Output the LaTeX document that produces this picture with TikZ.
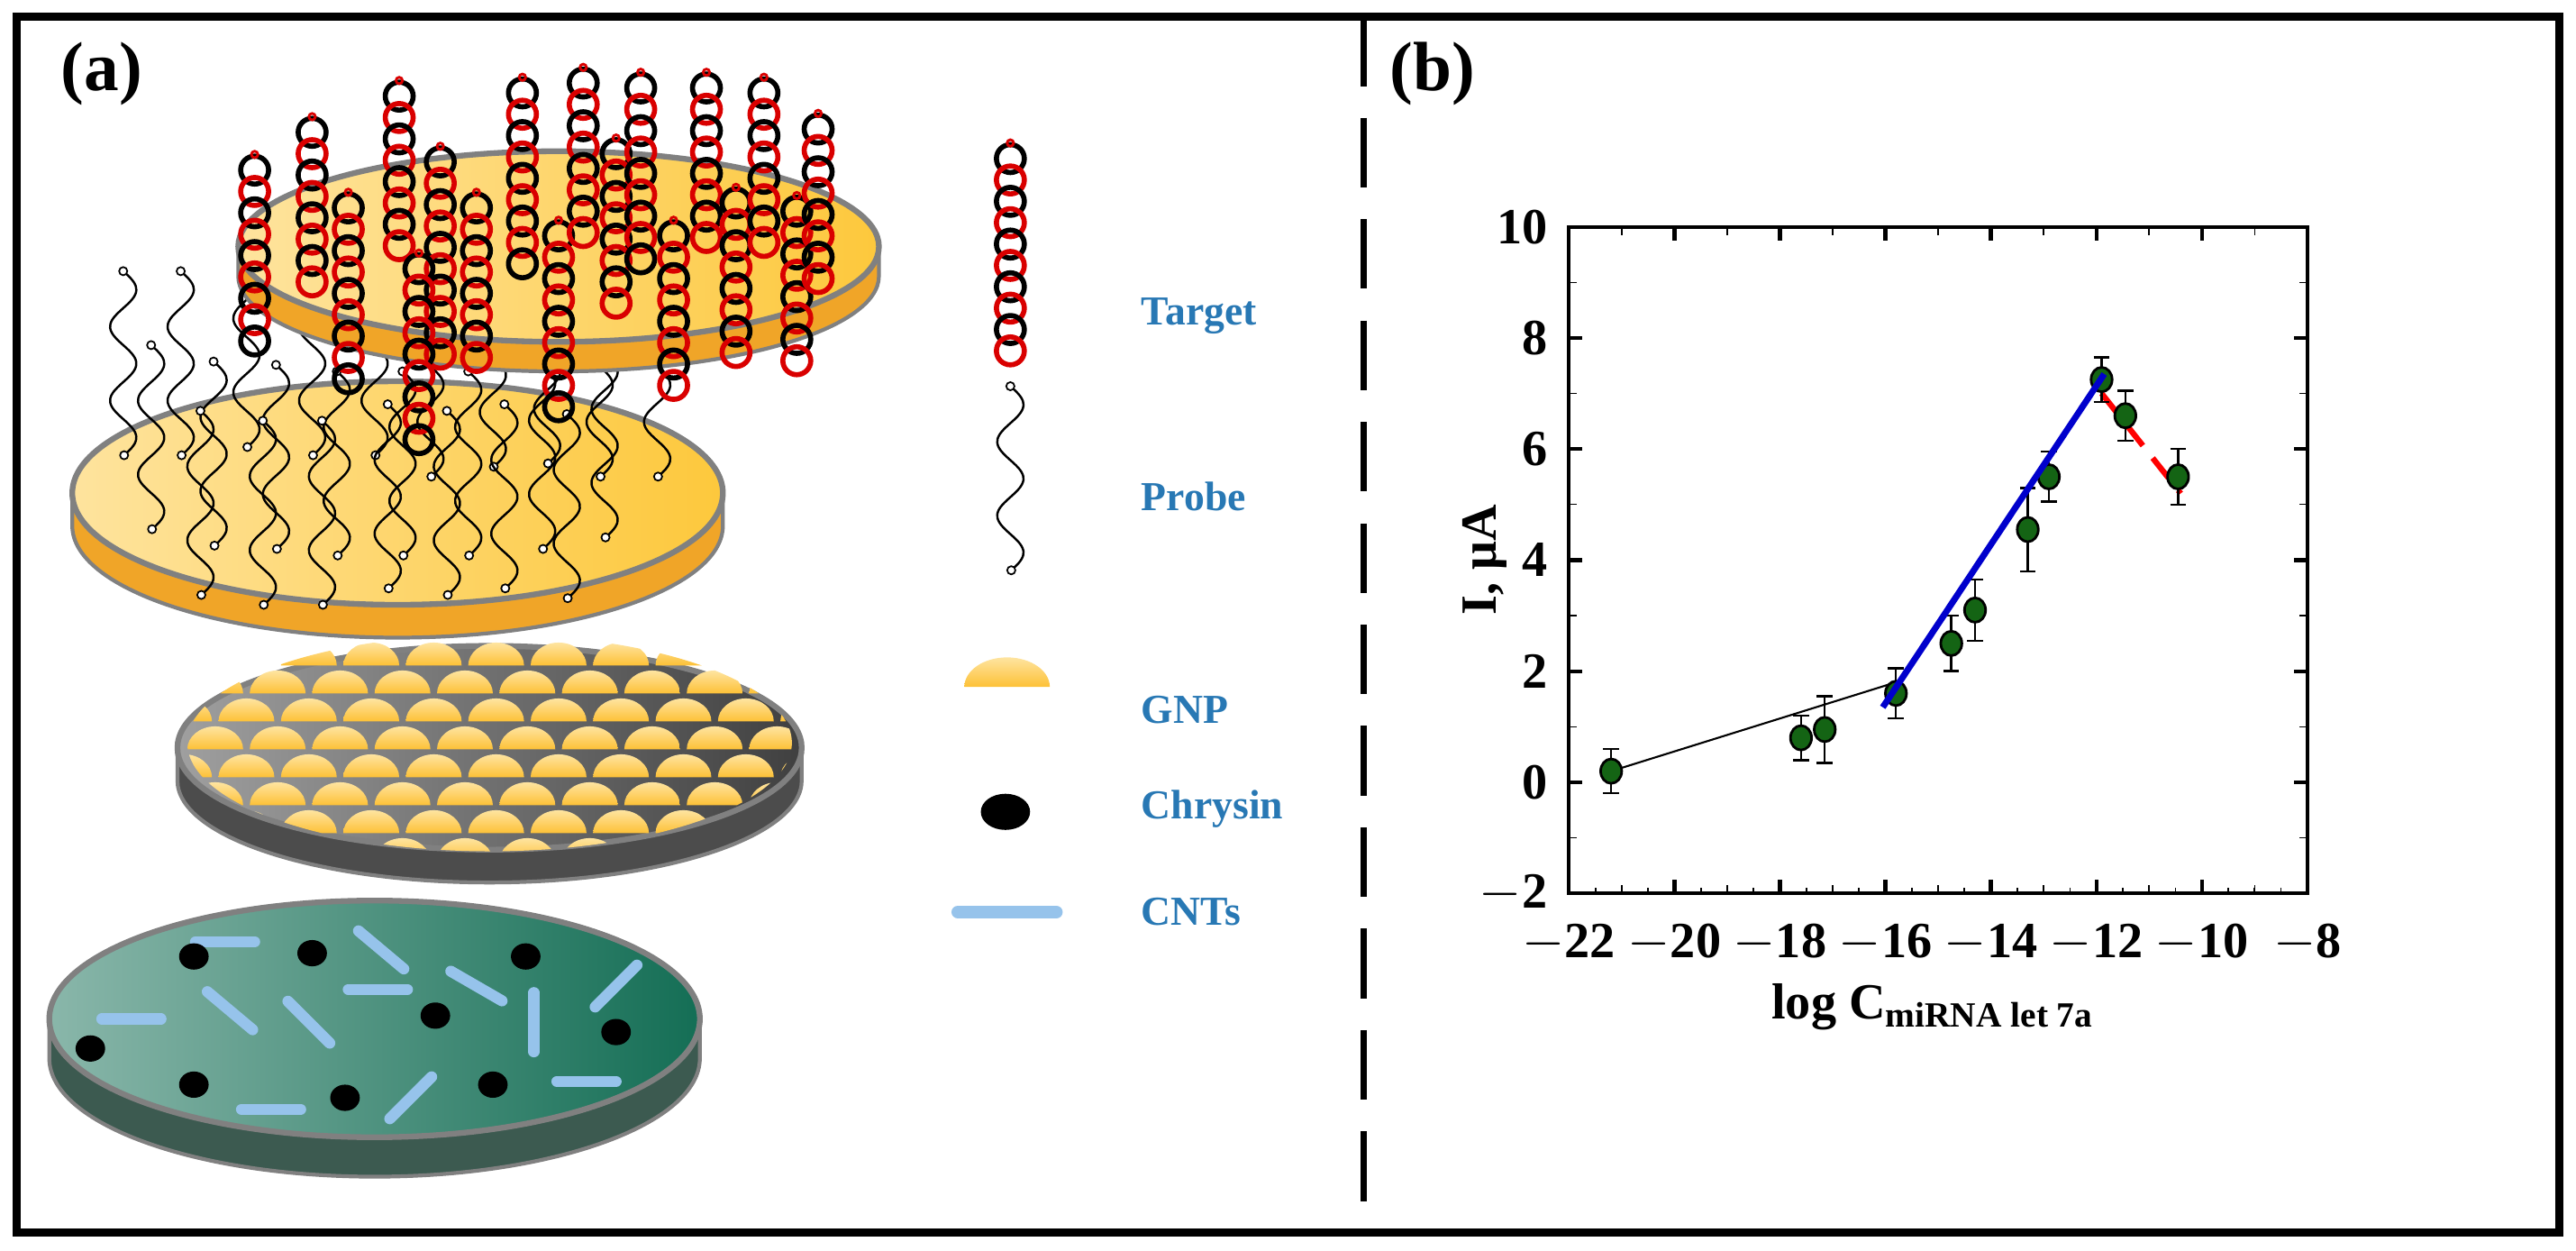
\documentclass[tikz,border=0pt]{standalone}
\usepackage{fontspec}
\setmainfont{Liberation Serif}
\usetikzlibrary{positioning}
\definecolor{gold}{RGB}{253,200,60}
\definecolor{goldlight}{RGB}{254,228,160}
\definecolor{goldside}{RGB}{240,165,40}
\definecolor{greendisc}{RGB}{20,110,85}
\definecolor{greenside}{RGB}{60,90,80}
\definecolor{legblue}{RGB}{40,120,180}
\definecolor{cntblue}{RGB}{150,195,235}
\definecolor{ptgreen}{RGB}{20,100,20}
\tikzset{
  legend/.style={font=\bfseries\fontsize{13}{15}\selectfont, text=legblue, anchor=west},
  tick/.style={font=\bfseries\fontsize{16}{18}\selectfont},
  datapt/.style={draw=black, fill=ptgreen, line width=0.8pt},
}
\newcommand{\disc}[7]{%
  \fill[#7] (#1-#3,#2) -- ++(0,#5) arc[start angle=180,end angle=0,x radius=#3,y radius=#4]
     -- ++(0,-#5) arc[start angle=0,end angle=180,x radius=#3,y radius=#4] -- cycle;
  \draw[gray, line width=1.2pt] (#1-#3,#2) -- ++(0,#5) arc[start angle=180,end angle=0,x radius=#3,y radius=#4] -- ++(0,-#5);
  \shade[left color=#6!50!white, right color=#6, draw=gray, line width=1.8pt] (#1,#2) ellipse (#3 and #4);}
% target duplex strand: top x, top y, number of loops
\newcommand{\duplex}[3]{%
  \foreach \k in {1,...,#3}{
    \pgfmathsetmacro{\yy}{#2+(\k-1)*13}
    \ifodd\k \def\cc{black}\else\def\cc{red!85!black}\fi
    \draw[\cc, line width=1.6pt] (#1,\yy+8.5) circle (8.5);}
  \draw[red!85!black, line width=0.8pt] (#1,#2-1) circle (2);}
% probe strand
\newcommand{\probe}[2]{%
  \draw[black, line width=0.7pt, domain=0:112, samples=50, smooth]
    plot ({#1+8*sin(\x*8)}, {#2+\x});
  \draw[fill=white, line width=0.5pt] (#1,#2) circle (2.5);
  \draw[fill=white, line width=0.5pt] ({#1+8*sin(896)},#2+112) circle (2.5);}
\begin{document}
\begin{tikzpicture}[x=0.018233cm, y=-0.018233cm]
\useasboundingbox (0,0) rectangle (1568,760.7);
% frame
\draw[line width=2.5pt] (10,10) rectangle (1558,750);
\draw[line width=1.8pt, dash pattern=on 22pt off 10pt] (830,10) -- (830,750);
\node[font=\bfseries\fontsize{22}{24}\selectfont] (lbla) at (62,45) {(a)};
\node[font=\bfseries\fontsize{22}{24}\selectfont] (lblb) at (872,45) {(b)};

% ---- panel (a): stacked layers
% bottom: CNTs + chrysin
\disc{228}{620}{198}{72}{24}{greendisc}{greenside}
\foreach \px/\py/\a in {137/573/0, 232/578/-40, 80/620/0, 140/615/-40, 188/622/-45,
                      230/602/0, 290/600/-30, 325/622/90, 375/600/45, 165/675/0,
                      250/668/45, 357/658/0}{
  \draw[cntblue, line width=3.5pt, line cap=round, rotate around={\a:(\px,\py)}] (\px-18,\py) -- (\px+18,\py);}
\foreach \px/\py in {118/582, 190/580, 320/582, 55/638, 265/618, 375/628, 118/660, 210/668, 300/660}{
  \fill[black] (\px,\py) ellipse (9 and 8);}
% GNP layer
\disc{298}{455}{190}{62}{20}{darkgray}{black!70}
\begin{scope}
\clip (298,452) ellipse (184 and 66);
\foreach \r in {0,...,7}{
  \foreach \c in {0,...,10}{
    \pgfmathsetmacro{\gx}{112+\c*38+mod(\r,2)*19}
    \pgfmathsetmacro{\gy}{405+\r*17}
    \shade[top color=goldlight, bottom color=gold!90!orange]
      (\gx-17,\gy) arc[start angle=180,end angle=0,x radius=17,y radius=-14] -- cycle;}}
\end{scope}
% probe layer
\disc{242}{300}{198}{68}{20}{gold}{goldside}
\foreach \px/\py in {75/165, 110/165, 150/160, 190/165, 228/165, 262/178, 300/172, 333/170, 365/178, 400/178,
                   92/210, 130/220, 168/222, 205/226, 245/226, 285/226, 330/222, 368/215,
                   122/250, 160/256, 196/256, 236/246, 272/250, 307/246, 345/252}{
  \probe{\px}{\py}}
% target layer
\disc{340}{150}{195}{58}{18}{gold}{goldside}
\foreach \px/\py/\n in {155/95/9, 190/72/8, 212/118/9, 243/50/8, 268/90/10, 290/118/8, 255/155/9,
                      318/48/9, 340/135/9, 355/42/8, 375/85/8, 390/45/9, 410/135/8,
                      430/45/8, 448/115/8, 465/48/8, 485/120/8, 498/70/8}{
  \duplex{\px}{\py}{\n}}

% legend
\duplex{615}{88}{10}
\node[legend] (ltarget) at (688,192) {Target};
\probe{615}{235}
\node[legend] (lprobe) at (688,302) {Probe};
\shade[top color=goldlight, bottom color=gold!90!orange]
  (587,418) arc[start angle=180,end angle=0,x radius=26,y radius=-18] -- cycle;
\node[legend] (lgnp) at (688,432) {GNP};
\fill[black] (612,494) ellipse (15 and 11);
\node[legend] (lchry) at (688,492) {Chrysin};
\draw[cntblue, line width=4pt, line cap=round] (583,555) -- (643,555);
\node[legend] (lcnt) at (688,555) {CNTs};

% ---- panel (b): plot
\begin{scope}[shift={(1661.2,476)}, x=0.5853cm, y=0.6163cm]
\draw[line width=1.2pt] (-22,-2) rectangle (-8,10);
\foreach \v in {-22,-20,...,-8}{
  \draw[line width=1.2pt] (\v,-2) -- ++(0,0.25);
  \draw[line width=1.2pt] (\v,10) -- ++(0,-0.25);
  \node[tick, below] at (\v,-2.35) {$\mathbf{\v}$};}
\foreach \v in {-21,-19,...,-9}{
  \draw (\v,-2) -- ++(0,0.15);
  \draw (\v,10) -- ++(0,-0.15);}
\foreach \v in {-22,-21.5,...,-8}{
  \draw[line width=0.5pt] (\v,-2) -- ++(0,0.1);}
\foreach \v in {-2,0,...,10}{
  \draw[line width=1.2pt] (-22,\v) -- ++(0.25,0);
  \draw[line width=1.2pt] (-8,\v) -- ++(-0.25,0);
  \node[tick, left] at (-22.2,\v) {$\mathbf{\v}$};}
\foreach \v in {-1,1,...,9}{
  \draw (-22,\v) -- ++(0.15,0);
  \draw (-8,\v) -- ++(-0.15,0);}
\node[tick, rotate=90] (ylab) at (-23.6,4) {I, μA};
\node[tick] (xlab) at (-15.1,-4.05) {log C\textsubscript{miRNA let 7a}};
% fits
\coordinate (f1a) at (-21.2,0.2); \coordinate (f1b) at (-15.8,1.8);
\coordinate (f2a) at (-16.05,1.35); \coordinate (f2b) at (-11.85,7.35);
\coordinate (f3a) at (-11.9,7.0); \coordinate (f3b) at (-10.4,5.2);
\draw[line width=0.6pt] (f1a) -- (f1b);
\draw[red, line width=1.8pt, dash pattern=on 8pt off 5pt] (f3a) -- (f3b);
% data with error bars
\foreach \px/\py/\e in {-21.2/0.2/0.4, -17.6/0.8/0.4, -17.15/0.95/0.6, -15.8/1.6/0.45, -14.75/2.5/0.5,
                      -14.3/3.1/0.55, -13.3/4.55/0.75, -12.9/5.5/0.45, -11.9/7.25/0.4,
                      -11.45/6.6/0.45, -10.45/5.5/0.5}{
  \draw[line width=0.7pt] (\px,\py-\e) -- (\px,\py+\e);
  \draw[line width=0.7pt] (\px-0.15,\py-\e) -- (\px+0.15,\py-\e);
  \draw[line width=0.7pt] (\px-0.15,\py+\e) -- (\px+0.15,\py+\e);
  \fill[datapt] (\px,\py) ellipse (0.2 and 0.22);}
\draw[blue!80!black, line width=2pt] (f2a) -- (f2b);
\end{scope}
\end{tikzpicture}
\end{document}
